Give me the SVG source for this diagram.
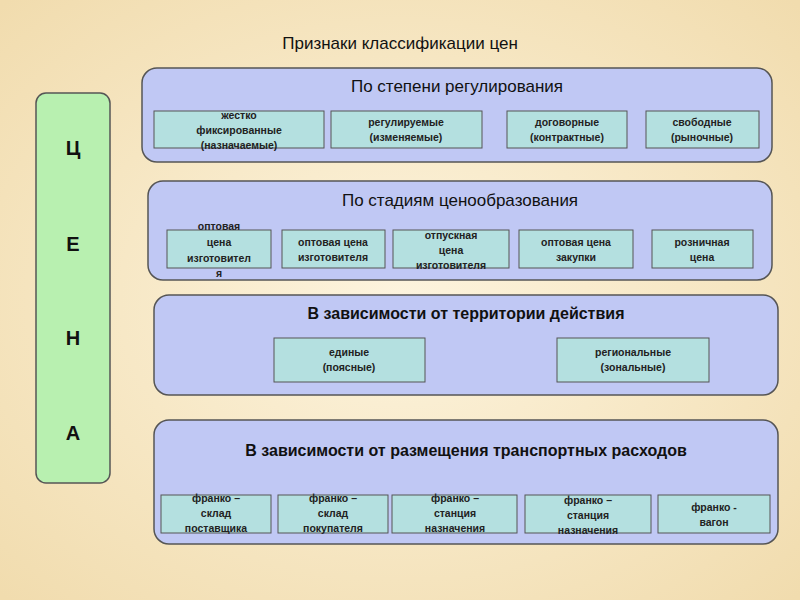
<svg xmlns="http://www.w3.org/2000/svg" width="800" height="600" viewBox="0 0 800 600">
<defs>
<radialGradient id="bg" cx="50%" cy="50%" r="70%"><stop offset="0" stop-color="#fdf4de"/><stop offset="1" stop-color="#f1dcae"/></radialGradient>
<style>
.p{fill:#c0c8f4;stroke:#555;stroke-width:1.5}
.b{fill:#b4e0e0;stroke:#555;stroke-width:1}
.t{font-family:"Liberation Sans",Arial,sans-serif;text-anchor:middle;fill:#111}
.h{font-size:17px}
.hb{font-size:16px;font-weight:bold}
.s{font-size:10.5px;font-weight:bold;fill:#222}
.l{font-size:20px;font-weight:bold}
</style>
</defs>
<rect width="800" height="600" fill="url(#bg)"/>
<text class="t" x="400" y="49" font-size="17">Признаки классификации цен</text>
<g id="cena"><rect x="36" y="93" width="74" height="390" rx="10" fill="#b8f0b0" stroke="#555" stroke-width="1.5"/>
<text class="t l" x="73" y="155">Ц</text><text class="t l" x="73" y="251">Е</text><text class="t l" x="73" y="345">Н</text><text class="t l" x="73" y="440">А</text></g>
<g id="g1"><rect class="p" x="142" y="68" width="630" height="94" rx="15"/><text class="t h" x="457" y="92">По степени регулирования</text>
<rect class="b" x="154" y="111" width="170" height="37"/><text class="t s" x="239" y="119">жестко</text><text class="t s" x="239" y="134">фиксированные</text><text class="t s" x="239" y="149">(назначаемые)</text>
<rect class="b" x="331" y="111" width="151" height="37"/><text class="t s" x="406" y="126">регулируемые</text><text class="t s" x="406" y="141">(изменяемые)</text>
<rect class="b" x="507" y="111" width="120" height="37"/><text class="t s" x="567" y="126">договорные</text><text class="t s" x="567" y="141">(контрактные)</text>
<rect class="b" x="646" y="111" width="113" height="37"/><text class="t s" x="702" y="126">свободные</text><text class="t s" x="702" y="141">(рыночные)</text></g>
<g id="g2"><rect class="p" x="148" y="181" width="624" height="99" rx="15"/><text class="t h" x="460" y="206">По стадиям ценообразования</text>
<rect class="b" x="167" y="230" width="104" height="38"/><text class="t s" x="219" y="230">оптовая</text><text class="t s" x="219" y="246">цена</text><text class="t s" x="219" y="262">изготовител</text><text class="t s" x="219" y="277">я</text>
<rect class="b" x="282" y="230" width="103" height="38"/><text class="t s" x="333" y="246">оптовая цена</text><text class="t s" x="333" y="261">изготовителя</text>
<rect class="b" x="393" y="230" width="116" height="38"/><text class="t s" x="451" y="239">отпускная</text><text class="t s" x="451" y="254">цена</text><text class="t s" x="451" y="269">изготовителя</text>
<rect class="b" x="519" y="230" width="114" height="38"/><text class="t s" x="576" y="246">оптовая цена</text><text class="t s" x="576" y="261">закупки</text>
<rect class="b" x="652" y="230" width="101" height="38"/><text class="t s" x="702" y="246">розничная</text><text class="t s" x="702" y="261">цена</text></g>
<g id="g3"><rect class="p" x="154" y="295" width="624" height="100" rx="15"/><text class="t hb" x="466" y="319">В зависимости от территории действия</text>
<rect class="b" x="274" y="338" width="151" height="44"/><text class="t s" x="349" y="356">единые</text><text class="t s" x="349" y="371">(поясные)</text>
<rect class="b" x="557" y="338" width="152" height="44"/><text class="t s" x="633" y="356">региональные</text><text class="t s" x="633" y="371">(зональные)</text></g>
<g id="g4"><rect class="p" x="154" y="420" width="624" height="124" rx="15"/><text class="t hb" x="466" y="456">В зависимости от размещения транспортных расходов</text>
<rect class="b" x="161" y="495" width="110" height="38"/><text class="t s" x="216" y="502">франко –</text><text class="t s" x="216" y="517">склад</text><text class="t s" x="216" y="532">поставщика</text>
<rect class="b" x="278" y="495" width="110" height="38"/><text class="t s" x="333" y="502">франко –</text><text class="t s" x="333" y="517">склад</text><text class="t s" x="333" y="532">покупателя</text>
<rect class="b" x="392" y="495" width="125" height="38"/><text class="t s" x="455" y="502">франко –</text><text class="t s" x="455" y="517">станция</text><text class="t s" x="455" y="532">назначения</text>
<rect class="b" x="525" y="495" width="126" height="38"/><text class="t s" x="588" y="504">франко –</text><text class="t s" x="588" y="519">станция</text><text class="t s" x="588" y="534">назначения</text>
<rect class="b" x="658" y="495" width="112" height="38"/><text class="t s" x="714" y="511">франко -</text><text class="t s" x="714" y="526">вагон</text></g>
<g id="connectors"/>
</svg>
